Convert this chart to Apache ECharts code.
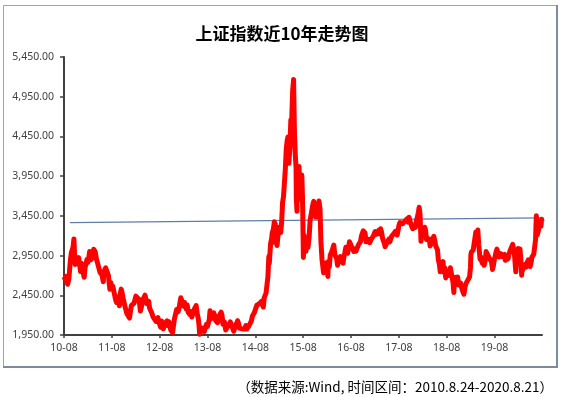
<!DOCTYPE html>
<html>
<head>
<meta charset="utf-8">
<script src="https://cdn.jsdelivr.net/npm/echarts@6/dist/echarts.min.js"></script>
<style>
html,body{margin:0;padding:0;background:#fff;}
#chart{width:564px;height:397px;}
</style>
</head>
<body>
<div id="chart"></div>
<script>
var titleText = '上证指数近10年走势图';
var sourceText = '（数据来源:Wind, 时间区间：2010.8.24-2020.8.21）';
var xTickLabels = ['10-08','11-08','12-08','13-08','14-08','15-08','16-08','17-08','18-08','19-08'];
var yMin = 1950, yMax = 5450, yStep = 500;

var dates = [
'2010-08-24','2010-08-31','2010-09-07','2010-09-15','2010-09-21','2010-09-30','2010-10-12','2010-10-19','2010-10-26','2010-11-01',
'2010-11-08','2010-11-12','2010-11-17','2010-11-23','2010-11-30','2010-12-07','2010-12-14','2010-12-21','2010-12-28','2011-01-04',
'2011-01-11','2011-01-18','2011-01-25','2011-02-01','2011-02-15','2011-02-22','2011-03-01','2011-03-08','2011-03-15','2011-03-22',
'2011-03-31','2011-04-08','2011-04-15','2011-04-19','2011-04-28','2011-05-06','2011-05-13','2011-05-20','2011-05-26','2011-06-03',
'2011-06-10','2011-06-20','2011-06-24','2011-07-01','2011-07-08','2011-07-15','2011-07-22','2011-07-29','2011-08-09','2011-08-16',
'2011-08-23','2011-08-31','2011-09-09','2011-09-16','2011-09-23','2011-09-30','2011-10-14','2011-10-21','2011-10-28','2011-11-04',
'2011-11-11','2011-11-18','2011-11-25','2011-12-02','2011-12-09','2011-12-16','2011-12-23','2011-12-30','2012-01-06','2012-01-13',
'2012-01-20','2012-02-03','2012-02-10','2012-02-17','2012-02-24','2012-03-02','2012-03-09','2012-03-16','2012-03-23','2012-03-29',
'2012-04-06','2012-04-13','2012-04-20','2012-04-27','2012-05-04','2012-05-11','2012-05-18','2012-05-25','2012-06-01','2012-06-08',
'2012-06-15','2012-06-21','2012-06-29','2012-07-06','2012-07-13','2012-07-20','2012-07-27','2012-08-03','2012-08-10','2012-08-17',
'2012-08-24','2012-08-31','2012-09-07','2012-09-14','2012-09-21','2012-09-26','2012-09-28','2012-10-12','2012-10-19','2012-10-26',
'2012-11-02','2012-11-09','2012-11-16','2012-11-23','2012-11-30','2012-12-04','2012-12-14','2012-12-21','2012-12-31','2013-01-11',
'2013-01-18','2013-01-25','2013-02-01','2013-02-08','2013-02-22','2013-03-01','2013-03-08','2013-03-15','2013-03-22','2013-03-29',
'2013-04-12','2013-04-19','2013-04-26','2013-05-10','2013-05-17','2013-05-24','2013-05-29','2013-06-07','2013-06-14','2013-06-20',
'2013-06-25','2013-06-28','2013-07-05','2013-07-10','2013-07-17','2013-07-24','2013-07-31','2013-08-09','2013-08-16','2013-08-23',
'2013-08-30','2013-09-06','2013-09-12','2013-09-18','2013-09-27','2013-10-11','2013-10-18','2013-10-25','2013-11-01','2013-11-08',
'2013-11-15','2013-11-22','2013-11-29','2013-12-06','2013-12-13','2013-12-20','2013-12-31','2014-01-10','2014-01-17','2014-01-24',
'2014-01-30','2014-02-14','2014-02-21','2014-02-28','2014-03-07','2014-03-12','2014-03-21','2014-03-28','2014-04-04','2014-04-11',
'2014-04-18','2014-04-25','2014-04-29','2014-05-09','2014-05-16','2014-05-23','2014-05-30','2014-06-06','2014-06-13','2014-06-20',
'2014-06-27','2014-07-04','2014-07-11','2014-07-18','2014-07-25','2014-08-01','2014-08-08','2014-08-15','2014-08-22','2014-08-29',
'2014-09-05','2014-09-12','2014-09-19','2014-09-26','2014-10-10','2014-10-17','2014-10-24','2014-10-31','2014-11-07','2014-11-14',
'2014-11-21','2014-11-28','2014-12-05','2014-12-09','2014-12-12','2014-12-19','2014-12-26','2014-12-31','2015-01-09','2015-01-16',
'2015-01-19','2015-01-23','2015-01-30','2015-02-06','2015-02-13','2015-02-27','2015-03-06','2015-03-13','2015-03-20','2015-03-27',
'2015-04-03','2015-04-10','2015-04-17','2015-04-24','2015-04-30','2015-05-07','2015-05-15','2015-05-22','2015-05-28','2015-06-05',
'2015-06-12','2015-06-19','2015-06-26','2015-07-01','2015-07-03','2015-07-08','2015-07-10','2015-07-17','2015-07-24','2015-07-27',
'2015-07-31','2015-08-07','2015-08-14','2015-08-18','2015-08-21','2015-08-26','2015-08-31','2015-09-11','2015-09-15','2015-09-18',
'2015-09-25','2015-09-30','2015-10-09','2015-10-16','2015-10-23','2015-10-30','2015-11-06','2015-11-13','2015-11-20','2015-11-27',
'2015-12-04','2015-12-11','2015-12-18','2015-12-23','2015-12-31','2016-01-04','2016-01-07','2016-01-15','2016-01-22','2016-01-27',
'2016-01-29','2016-02-05','2016-02-19','2016-02-26','2016-02-29','2016-03-04','2016-03-11','2016-03-18','2016-03-25','2016-03-31',
'2016-04-08','2016-04-14','2016-04-22','2016-04-29','2016-05-06','2016-05-13','2016-05-20','2016-05-27','2016-06-03','2016-06-08',
'2016-06-17','2016-06-24','2016-06-30','2016-07-08','2016-07-15','2016-07-22','2016-07-29','2016-08-05','2016-08-12','2016-08-19',
'2016-08-26','2016-09-02','2016-09-09','2016-09-14','2016-09-23','2016-09-30','2016-10-14','2016-10-21','2016-10-28','2016-11-04',
'2016-11-11','2016-11-18','2016-11-25','2016-11-29','2016-12-02','2016-12-09','2016-12-16','2016-12-23','2016-12-30','2017-01-06',
'2017-01-13','2017-01-20','2017-01-26','2017-02-10','2017-02-17','2017-02-24','2017-03-03','2017-03-10','2017-03-17','2017-03-24',
'2017-03-31','2017-04-07','2017-04-14','2017-04-21','2017-04-28','2017-05-05','2017-05-11','2017-05-19','2017-05-26','2017-06-02',
'2017-06-09','2017-06-16','2017-06-23','2017-06-30','2017-07-07','2017-07-14','2017-07-21','2017-07-28','2017-08-04','2017-08-11',
'2017-08-18','2017-08-25','2017-09-01','2017-09-08','2017-09-15','2017-09-22','2017-09-29','2017-10-13','2017-10-20','2017-10-27',
'2017-11-03','2017-11-10','2017-11-14','2017-11-17','2017-11-24','2017-11-30','2017-12-08','2017-12-15','2017-12-22','2017-12-29',
'2018-01-05','2018-01-12','2018-01-19','2018-01-26','2018-01-29','2018-02-02','2018-02-09','2018-02-14','2018-02-23','2018-03-02',
'2018-03-09','2018-03-16','2018-03-23','2018-03-30','2018-04-04','2018-04-13','2018-04-20','2018-04-27','2018-05-04','2018-05-11',
'2018-05-18','2018-05-25','2018-06-01','2018-06-08','2018-06-15','2018-06-22','2018-06-29','2018-07-06','2018-07-13','2018-07-20',
'2018-07-27','2018-08-03','2018-08-10','2018-08-17','2018-08-24','2018-08-31','2018-09-07','2018-09-14','2018-09-21','2018-09-28',
'2018-10-12','2018-10-18','2018-10-19','2018-10-26','2018-11-02','2018-11-09','2018-11-16','2018-11-23','2018-11-30','2018-12-07',
'2018-12-14','2018-12-21','2018-12-28','2019-01-03','2019-01-11','2019-01-18','2019-01-25','2019-02-01','2019-02-15','2019-02-22',
'2019-02-25','2019-03-01','2019-03-08','2019-03-15','2019-03-22','2019-03-29','2019-04-04','2019-04-08','2019-04-12','2019-04-19',
'2019-04-26','2019-05-06','2019-05-10','2019-05-17','2019-05-24','2019-05-31','2019-06-06','2019-06-14','2019-06-21','2019-06-28',
'2019-07-05','2019-07-12','2019-07-19','2019-07-26','2019-08-02','2019-08-09','2019-08-16','2019-08-23','2019-08-30','2019-09-06',
'2019-09-12','2019-09-20','2019-09-27','2019-10-11','2019-10-18','2019-10-25','2019-11-01','2019-11-08','2019-11-15','2019-11-22',
'2019-11-29','2019-12-06','2019-12-13','2019-12-20','2019-12-31','2020-01-10','2020-01-14','2020-01-23','2020-02-03','2020-02-07',
'2020-02-14','2020-02-21','2020-02-28','2020-03-06','2020-03-13','2020-03-19','2020-03-20','2020-03-27','2020-04-03','2020-04-10',
'2020-04-17','2020-04-24','2020-04-30','2020-05-08','2020-05-15','2020-05-22','2020-05-29','2020-06-05','2020-06-12','2020-06-19',
'2020-06-24','2020-07-03','2020-07-06','2020-07-09','2020-07-13','2020-07-16','2020-07-24','2020-07-31','2020-08-07','2020-08-13',
'2020-08-18','2020-08-21'
];

var closes = [
2640,2638,2688,2621,2589,2655,2895,2986,3022,3055,
3160,2986,2838,2830,2820,2877,2925,2900,2751,2852,
2804,2728,2677,2798,2899,2863,2918,3002,2896,2917,
2928,3030,3051,2999,2911,2864,2871,2858,2737,2729,
2705,2621,2746,2759,2797,2820,2778,2701,2526,2612,
2530,2567,2497,2482,2389,2359,2431,2318,2473,2528,
2481,2416,2397,2315,2315,2224,2204,2199,2163,2244,
2319,2330,2351,2357,2439,2460,2420,2404,2349,2252,
2302,2359,2406,2396,2452,2394,2344,2350,2373,2286,
2306,2240,2225,2171,2185,2168,2121,2133,2169,2115,
2092,2047,2127,2102,2027,2004,2086,2105,2128,2066,
2117,2069,2014,2026,1980,1959,2150,2153,2269,2243,
2284,2292,2419,2433,2314,2359,2318,2278,2328,2237,
2206,2245,2177,2247,2283,2288,2321,2211,2162,2073,
1959,1979,2007,2039,2023,2033,1994,2052,2085,2057,
2098,2140,2255,2191,2160,2228,2193,2133,2149,2106,
2135,2197,2220,2238,2197,2084,2116,2013,2004,2054,
2033,2115,2113,2056,2057,1997,2047,2041,2058,2130,
2097,2036,2020,2011,2026,2034,2039,2029,2070,2025,
2036,2059,2047,2059,2127,2185,2194,2226,2241,2217,
2327,2331,2329,2347,2374,2341,2302,2420,2418,2478,
2487,2683,2938,2856,2938,3108,3158,3235,3285,3376,
3116,3351,3210,3076,3204,3310,3241,3372,3617,3691,
3864,4035,4287,4394,4442,4112,4309,4658,4621,5023,
5166,4478,4193,4053,3687,3507,3878,3958,4071,3726,
3664,3745,3965,3749,3508,2927,3206,3200,3005,3098,
3093,3053,3183,3392,3413,3383,3590,3632,3630,3436,
3525,3435,3578,3636,3539,3297,3125,2901,2916,2735,
2737,2763,2860,2767,2688,2874,2810,2955,2979,3004,
2985,3082,2959,2938,2914,2828,2826,2821,2938,2927,
2885,2854,2930,2988,3054,3012,2979,2976,3125,3108,
3070,3067,3078,3002,3033,3005,3063,3091,3104,3125,
3196,3192,3261,3283,3243,3232,3123,3110,3104,3154,
3112,3123,3159,3196,3202,3253,3218,3212,3237,3269,
3223,3287,3246,3173,3155,3103,3062,3090,3108,3105,
3158,3123,3158,3192,3217,3222,3237,3253,3262,3209,
3268,3332,3367,3365,3353,3352,3349,3390,3378,3416,
3371,3432,3430,3382,3353,3317,3289,3266,3297,3307,
3391,3428,3487,3558,3523,3462,3129,3199,3289,3254,
3307,3269,3152,3169,3131,3159,3071,3082,3091,3163,
3193,3141,3075,3067,3021,2889,2847,2747,2831,2829,
2873,2740,2795,2669,2729,2725,2702,2681,2797,2821,
2606,2486,2550,2598,2676,2598,2679,2579,2588,2605,
2593,2516,2494,2464,2553,2596,2601,2618,2682,2804,
2961,2994,2969,3021,3104,3091,3247,3244,3189,3271,
3086,2906,2939,2882,2852,2899,2827,2882,3001,2979,
3011,2930,2924,2944,2868,2775,2824,2898,2886,2999,
3031,3006,2932,2973,2938,2954,2958,2964,2891,2885,
2872,2912,2968,3005,3050,3092,3106,2977,2746,2876,
2917,3040,2880,3034,2887,2702,2745,2772,2764,2796,
2838,2808,2860,2895,2868,2813,2852,2930,2920,2967,
2979,3152,3332,3451,3443,3210,3196,3310,3354,3320,
3408,3380
];

var trendDates = ['2010-10-08','2020-08-21'];
var trendValues = [3366, 3425];

var DAY = 86400000;
function toYears(d){
  var p = d.split('-');
  var ms = Date.UTC(+p[0], +p[1]-1, +p[2]);
  var p0 = dates[0].split('-');
  var ms0 = Date.UTC(+p0[0], +p0[1]-1, +p0[2]);
  return (ms - ms0) / (365.25 * DAY);
}
var mainData = dates.map(function(d,i){ return [toYears(d), closes[i]]; });
var trendData = trendDates.map(function(d,i){ return [toYears(d), trendValues[i]]; });
var tEnd = toYears(dates[dates.length-1]);
var tickVals = xTickLabels.map(function(_,i){ return i; });

var chart = echarts.init(document.getElementById('chart'), null, {renderer:'canvas'});
chart.setOption({
  backgroundColor:'#ffffff',
  animation:false,
  title:{
    text:titleText, left:'center', top:20,
    textStyle:{fontFamily:'Noto Sans CJK SC', fontSize:17, fontWeight:'bold', color:'#000'}
  },
  grid:{left:64, right:22, top:57, bottom:62},
  xAxis:{
    type:'value', min:0, max:tEnd, interval:1,
    axisLine:{lineStyle:{color:'#404040', width:2}},
    axisTick:{show:true, inside:false, length:3, customValues:tickVals, lineStyle:{color:'#404040', width:1.5}},
    axisLabel:{customValues:tickVals, color:'#404040', fontSize:10.5, fontFamily:'Noto Sans', margin:8,
      formatter:function(v){ var i=Math.round(v); return xTickLabels[i] || ''; }},
    splitLine:{show:false}
  },
  yAxis:{
    type:'value', min:yMin, max:yMax, interval:yStep,
    axisLine:{show:true, lineStyle:{color:'#404040', width:2}},
    axisTick:{show:true, length:4, lineStyle:{color:'#404040', width:1.5}},
    axisLabel:{color:'#404040', fontSize:10.5, fontFamily:'Noto Sans', margin:10,
      formatter:function(v){ return v.toLocaleString('en-US',{minimumFractionDigits:2, maximumFractionDigits:2}); }},
    splitLine:{show:false}
  },
  series:[
    {type:'line', data:trendData, showSymbol:false, z:2,
     lineStyle:{color:'#5b7fa8', width:1.2}},
    {type:'line', data:mainData, showSymbol:false, z:3, clip:true,
     lineStyle:{color:'#ff0000', width:5, join:'round'}}
  ],
  graphic:[
    {type:'rect', shape:{x:3.5, y:5.5, width:553, height:361}, style:{fill:'none', stroke:'#9aa5b4', lineWidth:1}, z:-1},
    {type:'line', shape:{x1:3, y1:367, x2:558, y2:367}, style:{stroke:'#7b8ba0', lineWidth:2}},
    {type:'line', shape:{x1:557, y1:5, x2:557, y2:368}, style:{stroke:'#7b8ba0', lineWidth:2}},
    {type:'text', x:553, y:387, style:{text:sourceText, textAlign:'right', textVerticalAlign:'middle',
      fontFamily:'Noto Sans CJK SC', fontSize:13.5, fill:'#000'}}
  ]
});
</script>
</body>
</html>
